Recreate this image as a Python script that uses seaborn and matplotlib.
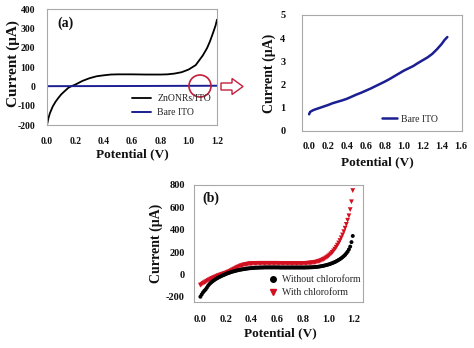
import matplotlib
matplotlib.use("Agg")
import matplotlib.pyplot as plt
import matplotlib.patches as mpatches
from matplotlib.lines import Line2D
import seaborn as sns
import pandas as pd

# ---------------- data ----------------
# panel (a): ZnONRs/ITO I-V curve
potential_a = [0.0, 0.01, 0.02, 0.04, 0.06, 0.08, 0.10, 0.12, 0.15, 0.17, 0.20, 0.25,
               0.30, 0.35, 0.40, 0.45, 0.50, 0.60, 0.70, 0.80, 0.85, 0.90, 0.95, 1.00,
               1.05, 1.10, 1.13, 1.15, 1.17, 1.19, 1.20]
current_zno = [-200, -165, -140, -105, -80, -60, -42, -28, -8, 0, 9, 28,
               42, 52, 57, 61, 62, 62, 61, 61, 62, 66, 73, 87,
               110, 160, 198, 232, 272, 315, 345]

# bare ITO (µA) – used in (a) and in the zoomed panel
potential_ito = [0.0, 0.01, 0.03, 0.05, 0.10, 0.15, 0.20, 0.25, 0.30, 0.35, 0.40, 0.45,
                 0.50, 0.55, 0.60, 0.65, 0.70, 0.75, 0.80, 0.85, 0.90, 0.95, 1.00, 1.05,
                 1.10, 1.15, 1.20, 1.25, 1.30, 1.35, 1.40, 1.43, 1.46]
current_ito = [0.72, 0.82, 0.87, 0.91, 0.98, 1.05, 1.12, 1.20, 1.26, 1.32, 1.39, 1.48,
               1.57, 1.65, 1.74, 1.83, 1.93, 2.03, 2.13, 2.24, 2.36, 2.48, 2.60, 2.70,
               2.80, 2.93, 3.05, 3.17, 3.32, 3.52, 3.75, 3.92, 4.05]

# panel (b): with / without chloroform
potential_b = [0.00, 0.01, 0.02, 0.03, 0.04, 0.05, 0.06, 0.07, 0.08, 0.09,
               0.10, 0.11, 0.12, 0.13, 0.14, 0.15, 0.16, 0.17, 0.18, 0.19,
               0.20, 0.21, 0.22, 0.23, 0.24, 0.25, 0.26, 0.27, 0.28, 0.29,
               0.30, 0.31, 0.32, 0.33, 0.34, 0.35, 0.36, 0.37, 0.38, 0.39,
               0.40, 0.41, 0.42, 0.43, 0.44, 0.45, 0.46, 0.47, 0.48, 0.49,
               0.50, 0.51, 0.52, 0.53, 0.54, 0.55, 0.56, 0.57, 0.58, 0.59,
               0.60, 0.61, 0.62, 0.63, 0.64, 0.65, 0.66, 0.67, 0.68, 0.69,
               0.70, 0.71, 0.72, 0.73, 0.74, 0.75, 0.76, 0.77, 0.78, 0.79,
               0.80, 0.81, 0.82, 0.83, 0.84, 0.85, 0.86, 0.87, 0.88, 0.89,
               0.90, 0.91, 0.92, 0.93, 0.94, 0.95, 0.96, 0.97, 0.98, 0.99,
               1.00, 1.01, 1.02, 1.03, 1.04, 1.05, 1.06, 1.07, 1.08, 1.09,
               1.10, 1.11, 1.12, 1.13, 1.14, 1.15, 1.16, 1.17, 1.18, 1.19]
current_without = [-198, -178, -160, -146, -134, -118, -100, -86, -75, -65,
                   -56, -48, -40, -33, -27, -21, -15, -10, -5, 0,
                   5, 10, 14, 18, 22, 26, 29, 32, 35, 38,
                   41, 43, 45, 47, 49, 51, 53, 54, 56, 57,
                   58, 59, 60, 61, 61, 62, 62, 63, 63, 63,
                   64, 64, 64, 64, 64, 64, 64, 64, 64, 64,
                   64, 64, 63, 63, 63, 63, 63, 63, 63, 63,
                   63, 63, 63, 63, 63, 63, 63, 63, 63, 63,
                   63, 63, 63, 64, 64, 64, 65, 65, 66, 67,
                   68, 69, 70, 72, 74, 76, 78, 81, 84, 87,
                   90, 94, 98, 102, 107, 112, 118, 124, 131, 138,
                   146, 155, 165, 176, 190, 205, 225, 250, 290, 345]
current_with = [-95, -88, -80, -73, -66, -60, -53, -47, -41, -35,
                -30, -25, -20, -15, -10, -6, -2, 2, 6, 10,
                14, 19, 24, 29, 35, 41, 47, 53, 59, 65,
                70, 75, 79, 83, 86, 89, 91, 93, 95, 96,
                97, 98, 98, 99, 99, 100, 100, 100, 100, 100,
                100, 100, 100, 100, 100, 100, 100, 100, 100, 100,
                100, 100, 99, 99, 99, 99, 99, 99, 99, 99,
                98, 98, 98, 98, 98, 98, 98, 98, 98, 99,
                99, 99, 100, 100, 101, 102, 103, 104, 106, 108,
                110, 113, 116, 120, 124, 129, 135, 141, 148, 156,
                165, 175, 186, 198, 212, 227, 244, 262, 282, 304,
                328, 354, 383, 414, 448, 485, 525, 580, 650, 750]

xticks_a = [0.0, 0.2, 0.4, 0.6, 0.8, 1.0, 1.2]
yticks_a = [-200, -100, 0, 100, 200, 300, 400]
xticks_z = [0.0, 0.2, 0.4, 0.6, 0.8, 1.0, 1.2, 1.4, 1.6]
yticks_z = [0, 1, 2, 3, 4, 5]
xticks_b = [0.0, 0.2, 0.4, 0.6, 0.8, 1.0, 1.2]
yticks_b = [-200, 0, 200, 400, 600, 800]

# ---------------- style ----------------
sns.set_theme(style="white")
plt.rcParams["font.family"] = ["Liberation Serif", "DejaVu Serif"]

BLUE = "#1b1f92"
RED = "#d21020"
SPINE = "#a8a8a8"

fig = plt.figure(figsize=(4.74, 3.48), dpi=100)
W, H = 474.0, 348.0


def px_axes(left, top, right, bottom):
    return fig.add_axes([left / W, 1 - bottom / H, (right - left) / W, (bottom - top) / H])


def style_axes(ax, xticks, yticks, xlim, ylim, xl_coords, yl_coords,
               labelsize=7.5, ylabsize=10, xpad=5, ypad=5):
    ax.set_xlim(*xlim)
    ax.set_ylim(*ylim)
    ax.set_xticks(xticks)
    ax.set_yticks(yticks)
    ax.set_xticklabels([f"{v:.1f}" for v in xticks])
    ax.set_yticklabels([f"{v:g}" for v in yticks])
    for s in ax.spines.values():
        s.set_color(SPINE)
        s.set_linewidth(0.8)
    ax.tick_params(axis="both", which="major", direction="out", length=3, width=0.6,
                   color=SPINE, labelsize=labelsize)
    ax.tick_params(axis="x", pad=xpad)
    ax.tick_params(axis="y", pad=ypad)
    for lab in ax.get_xticklabels() + ax.get_yticklabels():
        lab.set_fontweight("bold")
        lab.set_color("#111111")
    ax.set_xlabel("Potential (V)", fontsize=9.5, fontweight="bold", color="#111111")
    ax.set_ylabel("Current (μA)", fontsize=ylabsize, fontweight="bold", color="#111111")
    ax.xaxis.set_label_coords(*xl_coords)
    ax.yaxis.set_label_coords(*yl_coords)
    ax.grid(False)


# ---------------- panel (a) ----------------
ax1 = px_axes(47, 9, 217, 125)
df_zno = pd.DataFrame({"Potential": potential_a, "Current": current_zno})
df_ito = pd.DataFrame({"Potential": potential_ito, "Current": current_ito})
sns.lineplot(data=df_zno, x="Potential", y="Current", ax=ax1, color="black",
             lw=1.3, sort=False, estimator=None, label="ZnONRs/ITO")
sns.lineplot(data=df_ito, x="Potential", y="Current", ax=ax1, color=BLUE,
             lw=1.4, sort=False, estimator=None, label="Bare ITO")
style_axes(ax1, xticks_a, yticks_a, (0, 1.2), (-200, 400),
           (0.5, -0.2), (-0.16, 0.53), labelsize=7, ylabsize=11, xpad=6, ypad=5.6)
ax1.legend(loc="upper left", bbox_to_anchor=(0.5, 0.265), frameon=False,
           fontsize=7, handlelength=2.0, handletextpad=0.6, labelspacing=0.5,
           borderpad=0, borderaxespad=0)
ax1.text(0.06, 0.88, "(a)", transform=ax1.transAxes, fontsize=10,
         fontweight="bold", va="center", ha="left", color="#111111")
circ = mpatches.Ellipse(((200 - 47) / 170, (125 - 86) / 116), 22 / 170, 22 / 116,
                        transform=ax1.transAxes, fill=False, edgecolor="#c41e3a",
                        lw=1.2, clip_on=False, zorder=5)
ax1.add_patch(circ)

# arrow (figure pixel coords)
arrow_px = [(221, 83), (232, 83), (232, 78.5), (243, 86.5), (232, 94.5), (232, 90), (221, 90)]
arrow = mpatches.Polygon([(x / W, 1 - y / H) for x, y in arrow_px], closed=True,
                         transform=fig.transFigure, facecolor="white",
                         edgecolor="#c41e3a", lw=1.0)
fig.patches.append(arrow)

# ---------------- zoomed panel ----------------
ax2 = px_axes(302, 15, 462, 131)
sns.lineplot(data=df_ito, x="Potential", y="Current", ax=ax2, color=BLUE,
             lw=1.8, sort=False, estimator=None, label="Bare ITO")
style_axes(ax2, xticks_z, yticks_z, (-0.075, 1.615), (0, 5),
           (0.47, -0.215), (-0.16, 0.5), labelsize=7.5, ylabsize=10,
           xpad=5, ypad=9)
ax2.legend(loc="upper left", bbox_to_anchor=(0.5, 0.14), frameon=False,
           fontsize=7, handlelength=1.5, handletextpad=0.5,
           borderpad=0, borderaxespad=0)

# ---------------- panel (b) ----------------
ax3 = px_axes(194, 185, 363, 302)
df_b = pd.DataFrame({"Potential": potential_b * 2,
                     "Current": current_without + current_with,
                     "Condition": ["Without chloroform"] * len(potential_b)
                     + ["With chloroform"] * len(potential_b)})
sns.scatterplot(data=df_b[df_b.Condition == "Without chloroform"], x="Potential",
                y="Current", ax=ax3, color="black", marker="o", s=8,
                edgecolor="none", legend=False, zorder=3)
sns.scatterplot(data=df_b[df_b.Condition == "With chloroform"], x="Potential",
                y="Current", ax=ax3, color=RED, marker="v", s=12,
                edgecolor="none", legend=False, zorder=2)
style_axes(ax3, xticks_b, yticks_b, (-0.05, 1.27), (-245, 800),
           (0.51, -0.22), (-0.183, 0.5), labelsize=7.5, ylabsize=10,
           xpad=6, ypad=3.5)
handles = [Line2D([], [], ls="none", marker="o", color="black", markersize=4),
           Line2D([], [], ls="none", marker="v", color=RED, markersize=5)]
ax3.legend(handles, ["Without chloroform", "With chloroform"], loc="upper left",
           bbox_to_anchor=(0.44, 0.23), frameon=False, fontsize=7,
           handlelength=1.0, handletextpad=0.4, labelspacing=0.4,
           borderpad=0, borderaxespad=0)
ax3.text(0.05, 0.89, "(b)", transform=ax3.transAxes, fontsize=10,
         fontweight="bold", va="center", ha="left", color="#111111")

fig.savefig("out.png", dpi=100, facecolor="white")
